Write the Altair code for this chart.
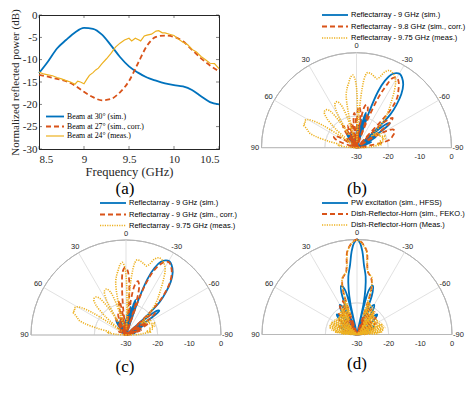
import math
import altair as alt
import pandas as pd

# ---------------- data: panel (a) ----------------
FREQ_SIM = [8.5, 8.6, 8.7, 8.8, 8.9, 9.0, 9.1, 9.2, 9.3, 9.4, 9.5,
            9.6, 9.7, 9.8, 9.9, 10.0, 10.1, 10.2, 10.3, 10.4, 10.5]
BEAM30 = [-13.0, -10.4, -7.5, -5.6, -3.9, -2.9, -3.1, -4.4, -6.8, -9.4, -11.5,
          -12.9, -14.0, -14.7, -15.3, -15.7, -16.0, -16.8, -18.2, -19.5, -20.0]
BEAM27 = [-13.4, -13.8, -14.3, -14.8, -15.8, -17.2, -18.4, -19.1, -18.8, -17.3, -14.8,
          -10.8, -6.9, -4.9, -4.6, -4.9, -5.9, -7.8, -9.7, -11.3, -12.6]
FREQ_MEAS = [8.5, 8.55, 8.6, 8.65, 8.7, 8.75, 8.8, 8.85, 8.9, 8.93, 8.96, 9.0, 9.03, 9.06,
             9.1, 9.13, 9.16, 9.2, 9.25, 9.3, 9.35, 9.4, 9.45, 9.5, 9.53, 9.57, 9.6, 9.63,
             9.67, 9.7, 9.75, 9.8, 9.83, 9.87, 9.9, 9.95, 10.0, 10.05, 10.1, 10.15, 10.2,
             10.25, 10.3, 10.35, 10.4, 10.45, 10.5]
BEAM24 = [-12.8, -13.2, -13.4, -13.6, -14.0, -14.3, -14.7, -15.0, -15.5, -14.8, -15.0, -15.4,
          -14.4, -13.5, -12.9, -12.3, -11.9, -10.9, -9.8, -8.6, -7.2, -6.3, -5.6, -5.2, -5.8,
          -5.2, -5.5, -5.8, -4.7, -4.5, -4.3, -3.6, -3.5, -4.0, -4.0, -4.3, -4.6, -5.4, -6.1,
          -6.6, -7.7, -8.3, -9.3, -10.0, -10.8, -10.9, -12.0]
FREQ_TICKS = [8.5, 9, 9.5, 10, 10.5]
DB_TICKS = [-30, -25, -20, -15, -10, -5, 0]
LEG_A = ["Beam at 30\u00b0 (sim.)", "Beam at 27\u00b0 (sim., corr.)", "Beam at 24\u00b0 (meas.)"]

# ---------------- data: polar patterns, (angle deg [+ = left], dB) ----------------
PAT_9_SIM = [(-90, -35), (-87, -31), (-85, -29), (-83, -31), (-81, -35), (-79, -29), (-77, -27),
             (-75, -29), (-73, -35), (-71, -27), (-69, -25), (-67, -27), (-65, -35), (-63, -25),
             (-61, -23), (-59, -25), (-57.5, -35), (-56, -20), (-54, -17), (-52, -17.5),
             (-50.5, -21), (-49, -35), (-47.5, -22), (-45.5, -15), (-43, -11.5), (-40, -8),
             (-36.5, -5.2), (-33, -3.6), (-30.5, -3), (-28, -3.3), (-25.5, -4.4), (-23, -7),
             (-21, -11), (-19.5, -18), (-18.5, -35), (-17, -22), (-15, -18.5), (-13, -22),
             (-12, -35), (-11, -23), (-9.5, -21), (-8, -23), (-7, -35), (-6, -25), (-4.5, -23),
             (-3, -25), (-2, -35), (-1, -27), (0.5, -25), (2, -27), (3, -35), (4.5, -28),
             (6, -26), (7.5, -28), (9, -35), (11, -28), (13, -26.5), (15, -28), (17, -35),
             (19.5, -27), (22, -25), (24.5, -27), (27, -35), (30, -26), (34, -24.5), (38, -26),
             (41, -35), (46, -29), (51, -28), (56, -29), (61, -35), (67, -30), (72, -29.5),
             (77, -30), (82, -35), (90, -35)]

PAT_98_CORR = [(-90, -35), (-88, -30), (-86, -27), (-84, -30), (-82, -35), (-79, -22), (-76, -19),
               (-72, -18), (-68, -17), (-64, -17), (-61, -19), (-58.5, -24), (-57, -35),
               (-55, -20), (-53, -16.5), (-50.5, -15.2), (-48, -17), (-46, -22), (-44.5, -35),
               (-42, -14), (-39, -9.5), (-36.5, -7.8), (-33, -5.5), (-30, -4.5), (-27.5, -5.2),
               (-25.5, -8.5), (-23.5, -13), (-21.5, -21), (-20.5, -35), (-19, -21), (-16, -17),
               (-13.5, -16), (-11.5, -16.5), (-9.5, -19), (-8.5, -35), (-7, -20), (-5, -17.5),
               (-3, -17), (-1.5, -19.5), (-0.5, -35), (1.5, -21), (3.5, -19), (5.5, -20),
               (7.5, -35), (9.5, -23), (11.5, -22), (13.5, -23), (15.5, -35), (18, -24),
               (21, -22.5), (24, -24.5), (26.5, -35), (29, -23), (32, -21.8), (35, -24),
               (38, -35), (42, -27), (46, -26), (50, -27), (54, -35), (58, -24), (63, -22),
               (67, -22.5), (71, -25), (75, -35), (79, -29), (82, -28), (85, -30), (90, -35)]

PAT_9_CORR = [(-90, -35), (-87, -30), (-84, -28), (-81, -30), (-78, -35), (-75, -27), (-73, -25),
              (-71, -27), (-68, -35), (-65, -24), (-62, -22), (-59.5, -24), (-57.5, -35),
              (-55.5, -21), (-53, -18.5), (-50.5, -20), (-49, -35), (-47, -21), (-45, -15.5),
              (-42.5, -11.5), (-39.5, -8), (-36, -5.4), (-33, -4), (-30.5, -3.3), (-28, -3.8),
              (-25.5, -5.5), (-23, -8.5), (-21, -13), (-19.5, -20), (-18.5, -35), (-17, -18),
              (-15, -14), (-12.5, -12.6), (-10, -14), (-8, -19), (-6.5, -35), (-5, -19),
              (-3, -12), (-1, -9.3), (1, -8.7), (3, -10), (4.5, -14), (6, -21), (7.5, -35),
              (9.5, -21), (11.5, -19), (13.5, -21), (15.5, -35), (18, -25), (21, -23), (24, -25),
              (26.5, -35), (29.5, -26), (32, -24), (35, -26), (38, -35), (42, -28), (46, -26.5),
              (50, -28), (54, -35), (60, -29), (65, -27.5), (70, -29), (75, -35), (79, -30),
              (82, -29), (85, -30), (90, -35)]

PAT_975_MEAS = [(-90, -30), (-87.5, -26), (-85, -24.5), (-82.5, -22), (-80, -23.5), (-77.5, -21.5),
                (-75, -22.5), (-72.5, -20.5), (-70, -21.5), (-67.5, -20), (-65, -21.5),
                (-62.5, -22), (-60, -21), (-57.5, -23), (-55, -22), (-52.5, -24), (-50, -22.5),
                (-47.5, -20.5), (-45, -17.8), (-41.5, -15), (-38, -12.5), (-34.5, -9.3),
                (-31, -6), (-28, -4.4), (-25.5, -3.7), (-23, -3.5), (-20.5, -4.5), (-18.5, -6.3),
                (-16.5, -7.3), (-14, -6.8), (-11, -6.2), (-8.5, -6), (-7, -7), (-5.5, -11),
                (-4, -20), (-3, -28), (-1.5, -18), (0, -11), (1.5, -8), (3, -7), (5, -7.8),
                (7, -9.5), (9, -11), (11, -13), (13, -18), (14.5, -27), (17, -20), (20, -15.5),
                (23, -14.2), (26, -14.5), (29, -17), (31, -25), (33, -20), (36, -15.5),
                (39, -14.6), (42, -14.8), (45, -16.5), (48, -21), (51, -28), (54, -24),
                (56.5, -17), (58.5, -13.5), (60.5, -12), (62.5, -11.6), (64.5, -12.1),
                (66.5, -11.7), (68.5, -12.8), (70.5, -13.7), (72.5, -14.4), (74.5, -16.5),
                (77, -21), (80, -25), (83, -24), (86, -27), (90, -30)]

PAT_PW = [(-90, -35), (-86, -29), (-82, -27), (-79, -29), (-75, -35), (-70, -26), (-64, -24),
          (-58, -26), (-53, -35), (-49.5, -23), (-45, -21), (-40.5, -23), (-37, -35),
          (-33.5, -21), (-30, -19.2), (-26.5, -21), (-23.5, -35), (-21, -17), (-18, -13.8),
          (-15, -15.5), (-13.5, -35), (-12, -20), (-10.5, -15.5), (-8.5, -11.5), (-5.7, -7.9),
          (-3.7, -3.7), (-2, -1.2), (0, 0), (2, -1.2), (3.7, -3.7), (5.7, -7.9), (8.5, -11.5),
          (10.5, -15.5), (12, -20), (13.5, -35), (15, -15.5), (18, -13.8), (21, -17),
          (23.5, -35), (26.5, -21), (30, -19.2), (33.5, -21), (37, -35), (40.5, -23), (45, -21),
          (49.5, -23), (53, -35), (58, -26), (64, -24), (70, -26), (75, -35), (79, -29),
          (82, -27), (86, -29), (90, -35)]

PAT_FEKO = [(-90, -35), (-86, -28), (-83, -26), (-80, -28), (-77, -35), (-74, -26), (-71, -24.5),
            (-68, -26), (-65, -35), (-62, -25), (-59, -23), (-56, -25), (-53, -35), (-50.5, -24),
            (-48, -22), (-45.5, -24), (-43, -35), (-40.5, -23), (-38, -21), (-35.5, -22.5),
            (-33, -35), (-31, -21.5), (-29, -20.8), (-27, -22), (-25, -35), (-23.5, -21),
            (-21.5, -19.5), (-20, -22), (-19, -35), (-18, -16), (-16, -13), (-14, -11.6),
            (-12, -10.8), (-10, -10), (-8.5, -8), (-7.5, -5), (-6.5, -3.3), (-4.5, -1.8),
            (-2.3, -0.6), (0, 0), (2.3, -0.6), (4.5, -1.8), (6.5, -3.3), (7.5, -5), (8.5, -8),
            (10, -10), (12, -10.8), (14, -11.5), (16, -13), (18, -16.5), (19.5, -35), (21, -21),
            (23, -18.5), (25, -20.5), (27, -35), (29, -21), (31, -19.5), (33, -21), (35, -35),
            (37.5, -22.5), (40, -21), (42.5, -23), (45, -35), (48, -24), (51, -22.5),
            (54, -24.5), (57, -35), (60, -25), (64, -23.5), (68, -25), (71, -35), (74, -27),
            (78, -25.5), (82, -27), (85, -35), (90, -35)]

PAT_DRH_MEAS = [(-90, -32), (-88, -23), (-86, -32), (-84, -22), (-82, -32), (-80, -21.5),
                (-78, -32), (-76, -20.8), (-74, -32), (-72, -21), (-70, -32), (-68, -21.3),
                (-66, -32), (-64, -21.5), (-62, -32), (-60, -21.8), (-58, -32), (-56, -22),
                (-54, -32), (-52, -22), (-50, -32), (-48, -22.5), (-46, -32), (-44, -22),
                (-42, -32), (-40, -21.5), (-38, -28), (-36, -20.8), (-34, -27), (-32, -20.5),
                (-30, -26), (-28, -19.8), (-26, -25), (-24, -19.5), (-22, -23), (-20.5, -19),
                (-19, -24), (-17.5, -15), (-16, -12.8), (-14.5, -11.3), (-13, -10.9),
                (-11.5, -10.5), (-10, -10), (-8.5, -8.2), (-7.5, -5.5), (-6.5, -3.6), (-4.5, -2),
                (-2.3, -0.7), (0, -0.2), (2.3, -0.6), (4.5, -1.9), (6.5, -3.7), (7.5, -5.6),
                (8.5, -8.6), (10, -10.2), (11.5, -10.6), (13, -11), (14.5, -11.5), (16, -12.8),
                (17.5, -15.5), (19, -24), (20.5, -18.5), (22, -23), (24, -19.8), (26, -24.5),
                (28, -20), (30, -25), (32, -20.5), (34, -24.5), (36, -21), (38, -27),
                (40, -21.5), (42, -32), (44, -22), (46, -32), (48, -22), (50, -32), (52, -21.8),
                (54, -32), (56, -21.5), (58, -32), (60, -21.5), (62, -32), (64, -21), (66, -32),
                (68, -21), (70, -32), (72, -20.8), (74, -32), (76, -21), (78, -32), (80, -21.8),
                (82, -32), (84, -23), (86, -32), (88, -25), (90, -32)]

LEG_B = ["Reflectarray - 9 GHz (sim.)", "Reflectarray - 9.8 GHz (sim., corr.)",
         "Reflectarray - 9.75 GHz (meas.)"]
LEG_C = ["Reflectarray - 9 GHz (sim.)", "Reflectarray - 9 GHz (sim., corr.)",
         "Reflectarray - 9.75 GHz (meas.)"]
LEG_D = ["PW excitation (sim., HFSS)", "Dish-Reflector-Horn (sim., FEKO.)",
         "Dish-Reflector-Horn (Meas.)"]

RING_INNER = [-20, -10]
RING_OUTER = [0]
SPOKE_ANG = [0, 30, 60, -30, -60]
BASE_ANG = [90, -90]
ANG_TICKS = [0, 30, 60, 90, -30, -60, -90]
ANG_LABELS = ["0", "30", "60", "90", "-30", "-60", "-90"]
RAD_TICKS = [-30, -20, -10, 0]
RAD_LABELS = ["-30", "-20", "-10", "0"]

# ---------------- style / layout ----------------
SERIF = "Liberation Serif"
SANS = "Liberation Sans"
BLUE, RED, YEL = "#0072BD", "#D95319", "#EDB120"
TXT = "#262626"
R_LO, R_HI = -30, 0
SPAN = R_HI - R_LO
R_PX = 95.0
K = R_PX / SPAN

STY = [dict(color=BLUE, strokeWidth=1.8),
       dict(color=RED, strokeWidth=1.8, strokeDash=[5, 3]),
       dict(color=YEL, strokeWidth=1.6, strokeDash=[1.2, 1.2])]

AX, AY = 39, 14
WA, HA = 180, 134
COL1_X = 243
ROW2_Y = 192
WR, HB2 = 222, 150
COL_SP = COL1_X - (AX + WA)
ROW_SP = ROW2_Y - (AY + HA)


def polar_panel(series, labels, label, origin, size, center, leg_x, leg_ys, lab_xy):
    ox, oy = origin
    W, H = size
    cx, cy = center[0] - ox, center[1] - oy
    xs = alt.Scale(domain=[-cx / K, (W - cx) / K], nice=False, zero=False)
    ys = alt.Scale(domain=[(cy - H) / K, cy / K], nice=False, zero=False)
    X = alt.X("x:Q", scale=xs, axis=None)
    Y = alt.Y("y:Q", scale=ys, axis=None)
    rs = alt.Scale(type="linear", domain=[R_LO, R_HI], range=[0, R_PX], nice=False, zero=False)
    layers = []
    for rings, col in ((RING_INNER, "#dedede"), (RING_OUTER, "#b3b3b3")):
        layers.append(
            alt.Chart(pd.DataFrame({"db": rings}))
            .transform_calculate(x="0", y="0")
            .mark_arc(theta=1.5 * math.pi, theta2=2.5 * math.pi, fillOpacity=0,
                      stroke=col, strokeWidth=0.9)
            .encode(x=X, y=Y, radius=alt.Radius("db:Q", scale=rs))
        )
    for angs, col in ((SPOKE_ANG, "#dedede"), (BASE_ANG, "#b3b3b3")):
        layers.append(
            alt.Chart(pd.DataFrame({"a": angs}))
            .transform_calculate(x="0", y="0",
                                 x2=f"-{SPAN}*sin(datum.a*PI/180)",
                                 y2=f"{SPAN}*cos(datum.a*PI/180)")
            .mark_rule(color=col, strokeWidth=0.9)
            .encode(x=X, y=Y, x2="x2:Q", y2="y2:Q")
        )
    lr = SPAN * 101.5 / R_PX
    layers.append(
        alt.Chart(pd.DataFrame({"a": ANG_TICKS, "t": ANG_LABELS}))
        .transform_calculate(x=f"-{lr}*sin(datum.a*PI/180)", y=f"{lr}*cos(datum.a*PI/180)")
        .mark_text(font=SANS, fontSize=7.5, color=TXT, baseline="middle")
        .encode(x=X, y=Y, text="t:N")
    )
    layers.append(
        alt.Chart(pd.DataFrame({"db": RAD_TICKS, "t": RAD_LABELS}))
        .transform_calculate(x=f"datum.db - ({R_LO})", y="0")
        .mark_text(font=SANS, fontSize=7.5, color=TXT, baseline="middle", dy=9)
        .encode(x=X, y=Y, text="t:N")
    )
    for pat, st in zip(series, STY):
        df = pd.DataFrame({"ang": [p[0] for p in pat], "db": [p[1] for p in pat],
                           "i": list(range(len(pat)))})
        layers.append(
            alt.Chart(df)
            .transform_calculate(
                r=f"max(0, min({SPAN}, datum.db - ({R_LO})))",
                x="-datum.r*sin(datum.ang*PI/180)",
                y="datum.r*cos(datum.ang*PI/180)")
            .mark_line(interpolate="catmull-rom", **st)
            .encode(x=X, y=Y, order="i:Q")
        )
    for lab, ly, st in zip(labels, leg_ys, STY):
        d = pd.DataFrame({"t": [lab]})
        layers.append(alt.Chart(d).mark_rule(**st).encode(
            x=alt.value(leg_x - ox), x2=alt.value(leg_x - ox + 26), y=alt.value(ly - oy)))
        layers.append(alt.Chart(d).mark_text(
            font=SANS, fontSize=7.5, color="black", align="left", baseline="middle").encode(
            x=alt.value(leg_x - ox + 29), y=alt.value(ly - oy), text="t:N"))
    layers.append(
        alt.Chart(pd.DataFrame({"t": [label]}))
        .mark_text(font=SERIF, fontSize=17, color="black", baseline="middle")
        .encode(x=alt.value(lab_xy[0] - ox), y=alt.value(lab_xy[1] - oy), text="t:N")
    )
    return alt.layer(*layers).properties(width=W, height=H)


# ---------------- panel (a) ----------------
ax_x = alt.Axis(values=FREQ_TICKS, labelExpr="'' + datum.value", title="Frequency (GHz)",
                grid=False, ticks=False, labelFont=SERIF, labelFontSize=11, labelColor=TXT,
                labelPadding=4, titleFont=SERIF, titleFontSize=12.5, titleFontWeight="normal",
                titleColor=TXT, titlePadding=1, domainColor=TXT)
ax_y = alt.Axis(values=DB_TICKS, labelExpr="'' + datum.value",
                title="Normalized reflected power (dB)", grid=False, ticks=False,
                labelFont=SERIF, labelFontSize=11, labelColor=TXT, labelPadding=2,
                titleFont=SERIF, titleFontSize=11, titleFontWeight="normal", titleColor=TXT,
                titlePadding=2, domainColor=TXT)
XA = alt.X("f:Q", scale=alt.Scale(domain=[8.5, 10.5], nice=False, zero=False), axis=ax_x)
YA = alt.Y("db:Q", scale=alt.Scale(domain=[-30, 0], nice=False, zero=False), axis=ax_y)

A_STY = [dict(color=BLUE, strokeWidth=1.8),
         dict(color=RED, strokeWidth=1.8, strokeDash=[5, 3]),
         dict(color=YEL, strokeWidth=1.2)]
a_layers = []
# inward ticks on all four sides of the box
for yv in (HA - 1.5, 1.5):
    a_layers.append(alt.Chart(pd.DataFrame({"f": FREQ_TICKS}))
                    .mark_tick(orient="vertical", size=3, thickness=0.8, color=TXT)
                    .encode(x=XA, y=alt.value(yv)))
for xv in (1.5, WA - 1.5):
    a_layers.append(alt.Chart(pd.DataFrame({"db": DB_TICKS}))
                    .mark_tick(orient="horizontal", size=3, thickness=0.8, color=TXT)
                    .encode(y=YA, x=alt.value(xv)))
for (fx, vals), st, interp in zip(
        [(FREQ_SIM, BEAM30), (FREQ_SIM, BEAM27), (FREQ_MEAS, BEAM24)], A_STY,
        ["monotone", "monotone", "linear"]):
    a_layers.append(alt.Chart(pd.DataFrame({"f": fx, "db": vals}))
                    .mark_line(interpolate=interp, **st).encode(x=XA, y=YA))
A_LEG_Y = [HA - 32.5, HA - 22.5, HA - 13]
for lab, ly, st in zip(LEG_A, A_LEG_Y, A_STY):
    d = pd.DataFrame({"t": [lab]})
    a_layers.append(alt.Chart(d).mark_rule(**st).encode(
        x=alt.value(7), x2=alt.value(25), y=alt.value(ly)))
    a_layers.append(alt.Chart(d).mark_text(
        font=SERIF, fontSize=7.8, color="black", align="left", baseline="middle").encode(
        x=alt.value(28), y=alt.value(ly), text="t:N"))
a_layers.append(alt.Chart(pd.DataFrame({"t": ["(a)"]}))
                .mark_text(font=SERIF, fontSize=17, color="black", baseline="middle")
                .encode(x=alt.value(125 - AX), y=alt.value(188 - AY), text="t:N"))
A = alt.layer(*a_layers).properties(
    width=WA, height=HA, view=alt.ViewBackground(stroke=TXT, strokeWidth=1))

B = polar_panel([PAT_9_SIM, PAT_98_CORR, PAT_975_MEAS], LEG_B, "(b)",
                (COL1_X, AY), (WR, HA), (356.5, 146.7), 322, [14, 25.5, 37], (357, 188))
C = polar_panel([PAT_9_SIM, PAT_9_CORR, PAT_975_MEAS], LEG_C, "(c)",
                (AX, ROW2_Y), (WA, HB2), (126, 334), 100, [202, 213.5, 224.5], (125, 366))
D = polar_panel([PAT_PW, PAT_FEKO, PAT_DRH_MEAS], LEG_D, "(d)",
                (COL1_X, ROW2_Y), (WR, HB2), (357, 333.5), 322, [202, 213, 224],
                (357, 363))

chart = (
    alt.concat(A, B, C, D, columns=2, spacing={"row": ROW_SP, "column": COL_SP}, bounds="flush")
    .properties(padding=0, background="white")
    .configure_view(stroke="transparent")
)
chart.save("out.html", embed_options={"renderer": "svg", "actions": False})
